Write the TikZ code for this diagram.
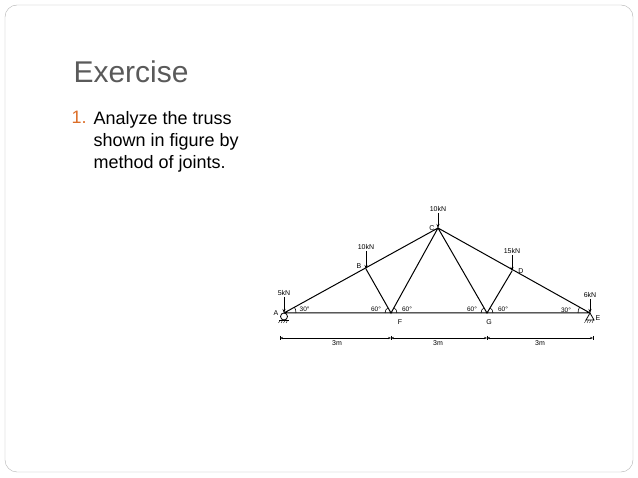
\documentclass[tikz,border=0pt]{standalone}
\usepackage{fontspec}
\setmainfont{Liberation Sans}
\usetikzlibrary{arrows.meta}
\definecolor{titlegray}{RGB}{90,90,90}
\definecolor{numorange}{RGB}{220,110,40}
\begin{document}
\begin{tikzpicture}[x=1pt,y=-1pt,
  mem/.style={line width=1pt},
  load/.style={-{Stealth[length=4pt]},line width=0.8pt},
  lbl/.style={font=\fontsize{7}{8}\selectfont,inner sep=1pt},
  ang/.style={font=\fontsize{6.5}{7}\selectfont,inner sep=0.5pt}]
\useasboundingbox (0,0) rectangle (638,478);
\draw[gray!60,rounded corners=12pt] (5,5) rectangle (633,472);
\node[anchor=west,text=titlegray,font=\fontsize{30}{34}\selectfont] (title) at (70,72) {Exercise};
\node[anchor=north west,text=numorange,font=\fontsize{18}{22}\selectfont] (num) at (68,108) {1.};
\node[anchor=north west,align=left,font=\fontsize{18}{22}\selectfont] (txt) at (90,108) {Analyze the truss\\shown in figure by\\method of joints.};
% joints
\coordinate (A) at (284,313);
\coordinate (F) at (391,313);
\coordinate (G) at (487,313);
\coordinate (E) at (590,313);
\coordinate (C) at (438,228);
\coordinate (B) at (366,269);
\coordinate (D) at (512,271);
\draw[mem] (A)--(E) (A)--(C)--(E) (B)--(F)--(C)--(G)--(D);
% supports
\draw[line width=0.8pt] (284,316.5) circle (3.5);
\draw[line width=0.6pt] (279,320.5)--(289,320.5);
\foreach \i in {0,1,2,3} \draw[line width=0.4pt] (280+2.5*\i,320.5)--(278.5+2.5*\i,323);
\draw[line width=0.8pt] (E)--(586,320)--(594,320)--cycle;
\foreach \i in {0,1,2,3} \draw[line width=0.4pt] (586+2.5*\i,320)--(584.5+2.5*\i,323);
% loads
\coordinate (La) at (284,297); \draw[load] (La)--(A);
\coordinate (Lb) at (366,251); \draw[load] (Lb)--(B);
\coordinate (Lc) at (438,213); \draw[load] (Lc)--(C);
\coordinate (Ld) at (512,255); \draw[load] (Ld)--(D);
\coordinate (Le) at (590,299); \draw[load] (Le)--(E);
\node[lbl,anchor=south] (l1) at (La) {5kN};
\node[lbl,anchor=south] (l2) at (Lb) {10kN};
\node[lbl,anchor=south] (l3) at (Lc) {10kN};
\node[lbl,anchor=south] (l4) at (Ld) {15kN};
\node[lbl,anchor=south] (l5) at (Le) {6kN};
\node[lbl] (nA) at (276,313) {A};
\node[lbl] (nB) at (359,266) {B};
\node[lbl] (nC) at (432,228) {C};
\node[lbl] (nD) at (521,271) {D};
\node[lbl] (nE) at (598,318) {E};
\node[lbl] (nF) at (400,322) {F};
\node[lbl] (nG) at (489,322) {G};
% angles
\draw[line width=0.6pt] (296,313) arc (0:-30:12);
\draw[line width=0.6pt] (385,313) arc (180:240:6);
\draw[line width=0.6pt] (397,313) arc (0:-60:6);
\draw[line width=0.6pt] (481,313) arc (180:240:6);
\draw[line width=0.6pt] (493,313) arc (0:-60:6);
\draw[line width=0.6pt] (578,313) arc (180:210:12);
\node[ang,anchor=west] (a1) at (299,309) {30°};
\node[ang] (a2) at (376,309) {60°};
\node[ang] (a3) at (407,309) {60°};
\node[ang] (a4) at (472,309) {60°};
\node[ang] (a5) at (503,309) {60°};
\node[ang] (a6) at (566,310) {30°};
% dimensions
\coordinate (d0) at (280,338); \coordinate (d1) at (391,338);
\coordinate (d2) at (487,338); \coordinate (d3) at (593,338);
\draw[line width=0.7pt,{Stealth[length=3pt]}-{Stealth[length=3pt]}] (d0)--(d1);
\draw[line width=0.7pt,{Stealth[length=3pt]}-{Stealth[length=3pt]}] (d1)--(d2);
\draw[line width=0.7pt,{Stealth[length=3pt]}-{Stealth[length=3pt]}] (d2)--(d3);
\foreach \p in {d0,d1,d2,d3} \draw[line width=0.5pt] (\p)++(0,-2)--++(0,4);
\node[lbl] (m1) at (337,343) {3m};
\node[lbl] (m2) at (438,343) {3m};
\node[lbl] (m3) at (540,343) {3m};
\end{tikzpicture}
\end{document}
